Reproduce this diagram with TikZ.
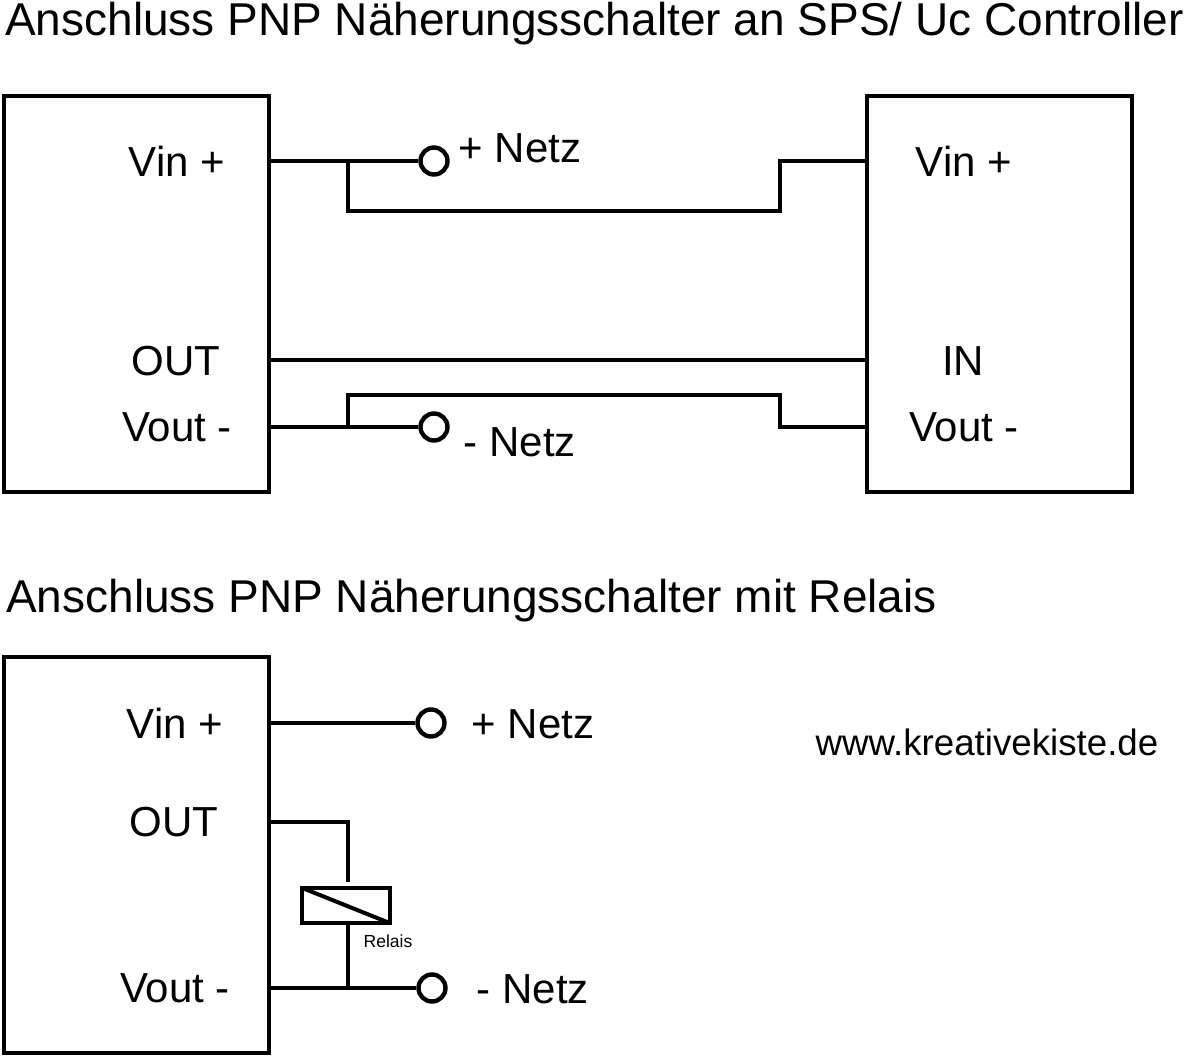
\documentclass[tikz,border=0pt]{standalone}
\usepackage{fontspec}
\setmainfont{Liberation Sans}
\tikzset{
	sensorbox/.style={draw, line width=4.4pt, minimum width=265pt, minimum height=396pt, inner sep=0pt},
	klemme/.style={draw, circle, line width=4.4pt, fill=white, minimum size=27pt, inner sep=0pt},
	wire/.style={line width=4.4pt, line join=miter},
	pinlabel/.style={font=\fontsize{42}{43}\selectfont, inner sep=0pt},
	titlelabel/.style={font=\fontsize{46}{46}\selectfont, anchor=base west, inner sep=0pt},
}
\begin{document}
\begin{tikzpicture}[x=1pt, y=-1pt]
	\useasboundingbox (0,0) rectangle (1200,1056);
	
	% Titles
	\node[titlelabel] (titleA) at (5,36) {Anschluss PNP Näherungsschalter an SPS/ Uc Controller};
	\node[titlelabel] (titleB) at (6,612.5) {Anschluss PNP Näherungsschalter mit Relais};
	\node[pinlabel, font=\fontsize{36.7}{37}\selectfont] (web) at (987,742.5) {www.kreativekiste.de};
	
	% Boxes
	\node[sensorbox] (sensorA) at (136.5,294) {};
	\node[sensorbox] (sps) at (999.5,294) {};
	\node[sensorbox] (sensorB) at (136.5,855) {};
	
	% Pin labels
	\node[pinlabel] at (177,161.5) (vinA) {Vin +};
	\node[pinlabel] at (176,361) (outA) {OUT};
	\node[pinlabel] at (177,427) (voutA) {Vout -};
	\node[pinlabel] at (964,161.5) (vinS) {Vin +};
	\node[pinlabel] at (963,361) (inS) {IN};
	\node[pinlabel] at (964,427) (voutS) {Vout -};
	\node[pinlabel] at (175,723) (vinB) {Vin +};
	\node[pinlabel] at (174,822) (outB) {OUT};
	\node[pinlabel] at (175,988) (voutB) {Vout -};
	
	% Terminals
	\node[klemme] (plusA) at (434,161) {};
	\node[klemme] (minusA) at (434,427) {};
	\node[klemme] (plusB) at (431,723) {};
	\node[klemme] (minusB) at (432,988) {};
	\node[pinlabel] (plusAtxt) at (520,148) {+ Netz};
	\node[pinlabel] (minusAtxt) at (520,442) {- Netz};
	\node[pinlabel] (plusBtxt) at (533,724) {+ Netz};
	\node[pinlabel] (minusBtxt) at (533,989) {- Netz};
	
	% Relay
	\node[draw, line width=4.4pt, minimum width=88pt, minimum height=35pt, inner sep=0pt] (relais) at (346,905.5) {};
	\draw[line width=4pt] ([shift={(2,2)}]relais.north west) -- ([shift={(-2,-2)}]relais.south east);
	\node[font=\fontsize{17.5}{18}\selectfont, inner sep=0pt] (relaistxt) at (388,941) {Relais};
	
	% Pins on the box edges
	\coordinate (a1) at (sensorA.east |- plusA);
	\coordinate (a2) at (sensorA.east |- 0,360);
	\coordinate (a3) at (sensorA.east |- minusA);
	\coordinate (s1) at (sps.west |- plusA);
	\coordinate (s2) at (sps.west |- 0,360);
	\coordinate (s3) at (sps.west |- minusA);
	\coordinate (b1) at (sensorB.east |- plusB);
	\coordinate (b2) at (sensorB.east |- 0,822);
	\coordinate (b3) at (sensorB.east |- minusB);
	\coordinate (t1) at (348,161);
	\coordinate (t3) at (348,427);
	\coordinate (t4) at (348,822);
	\coordinate (t5) at (348,882);
	\coordinate (t6) at (348,924);
	\coordinate (t7) at (348,988);
	
	% Upper wires
	\draw[wire] (a1) -- (plusA);
	\draw[wire] (t1) -- (348,211) -- (780,211) -- (780,161) -- (s1);
	\draw[wire] (a2) -- (s2);
	\draw[wire] (a3) -- (minusA);
	\draw[wire] (t3) -- (348,395) -- (780,395) -- (780,427) -- (s3);
	
	% Lower wires
	\draw[wire] (b1) -- (plusB);
	\draw[wire] (b2) -- (t4) -- (t5);
	\draw[wire] (t6) -- (t7);
	\draw[wire] (b3) -- (minusB);
\end{tikzpicture}
\end{document}
